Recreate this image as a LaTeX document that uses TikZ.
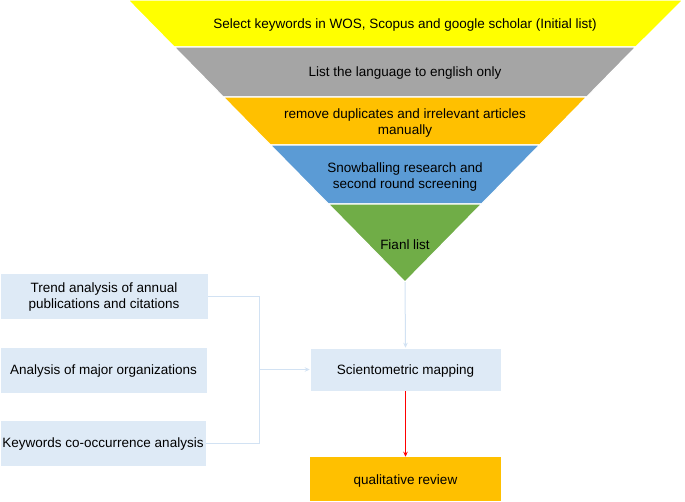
\documentclass[tikz,border=0pt]{standalone}
\usepackage{fontspec}
\setmainfont{Liberation Sans}
\usetikzlibrary{arrows.meta}
\definecolor{cyellow}{HTML}{FFFF00}
\definecolor{cgray}{HTML}{A5A5A5}
\definecolor{corange}{HTML}{FFC000}
\definecolor{cblue}{HTML}{5B9BD5}
\definecolor{cgreen}{HTML}{70AD47}
\definecolor{cpale}{HTML}{DEEAF6}
\definecolor{cline}{HTML}{D2E2F3}
\begin{document}
\begin{tikzpicture}[x=1pt,y=-1pt,
  band/.style={draw=white,line width=1.2pt},
  txt/.style={font=\fontsize{13.5}{16}\selectfont,align=center,inner sep=0pt},
  pbox/.style={fill=cpale,draw=white,line width=0.5pt,inner sep=0pt},
  conn/.style={draw=cline,line width=1pt},
  tip/.style={-{Stealth[length=5pt,width=4.5pt]}}]
\useasboundingbox (0,0) rectangle (685,501);
% funnel bands
\path[band,fill=cyellow] (128,0) -- (683,0) -- (635.8,47) -- (174.2,47) -- cycle;
\path[band,fill=cgray] (174.2,47) -- (635.8,47) -- (586.7,97) -- (223.3,97) -- cycle;
\path[band,fill=corange] (223.3,97) -- (586.7,97) -- (539.6,145) -- (270.4,145) -- cycle;
\path[band,fill=cblue] (270.4,145) -- (539.6,145) -- (481.6,204) -- (328.4,204) -- cycle;
\path[band,fill=cgreen] (328.4,204) -- (481.6,204) -- (405,282) -- cycle;
\node[txt] (t1) at (405,25.5) {Select keywords in WOS, Scopus and google scholar (Initial list)};
\node[txt] (t2) at (405,73.5) {List the language to english only};
\node[txt] (t3) at (405,123.5) {remove duplicates and irrelevant articles\\manually};
\node[txt] (t4) at (405,177.5) {Snowballing research and\\second round screening};
\node[txt] (t5) at (405,244.5) {Fianl list};
\coordinate (apex) at (405,282);
% left boxes
\node[pbox,minimum width=208pt,minimum height=46pt] (b1) at (104,296) {};
\node[pbox,minimum width=207pt,minimum height=46pt] (b2) at (103.5,370) {};
\node[pbox,minimum width=206pt,minimum height=46pt] (b3) at (103,443) {};
\node[txt] (b1t) at ([yshift=-1.5pt]b1.center) {Trend analysis of annual\\publications and citations};
\node[txt] (b2t) at ([yshift=-1.5pt]b2.center) {Analysis of major organizations};
\node[txt] (b3t) at ([yshift=-1.5pt]b3.center) {Keywords co-occurrence analysis};
% right boxes
\node[pbox,minimum width=191pt,minimum height=43pt] (sm) at (405.5,369.5) {};
\node[pbox,fill=corange,draw=none,minimum width=191pt,minimum height=44pt] (qr) at (405.5,479) {};
\node[txt] (smt) at ([yshift=-2pt]sm.center) {Scientometric mapping};
\node[txt] (qrt) at ([yshift=-2pt]qr.center) {qualitative review};
% connectors
\coordinate (j) at (259,369.5);
\draw[conn] (b1.east) -| (j);
\draw[conn] (b3.east) -| (j);
\draw[conn,tip] (j) -- (sm.west);
\draw[conn,tip] (apex) -- (sm.north);
\draw[red,line width=1pt,tip] (sm.south) -- (qr.north);
\end{tikzpicture}
\end{document}
